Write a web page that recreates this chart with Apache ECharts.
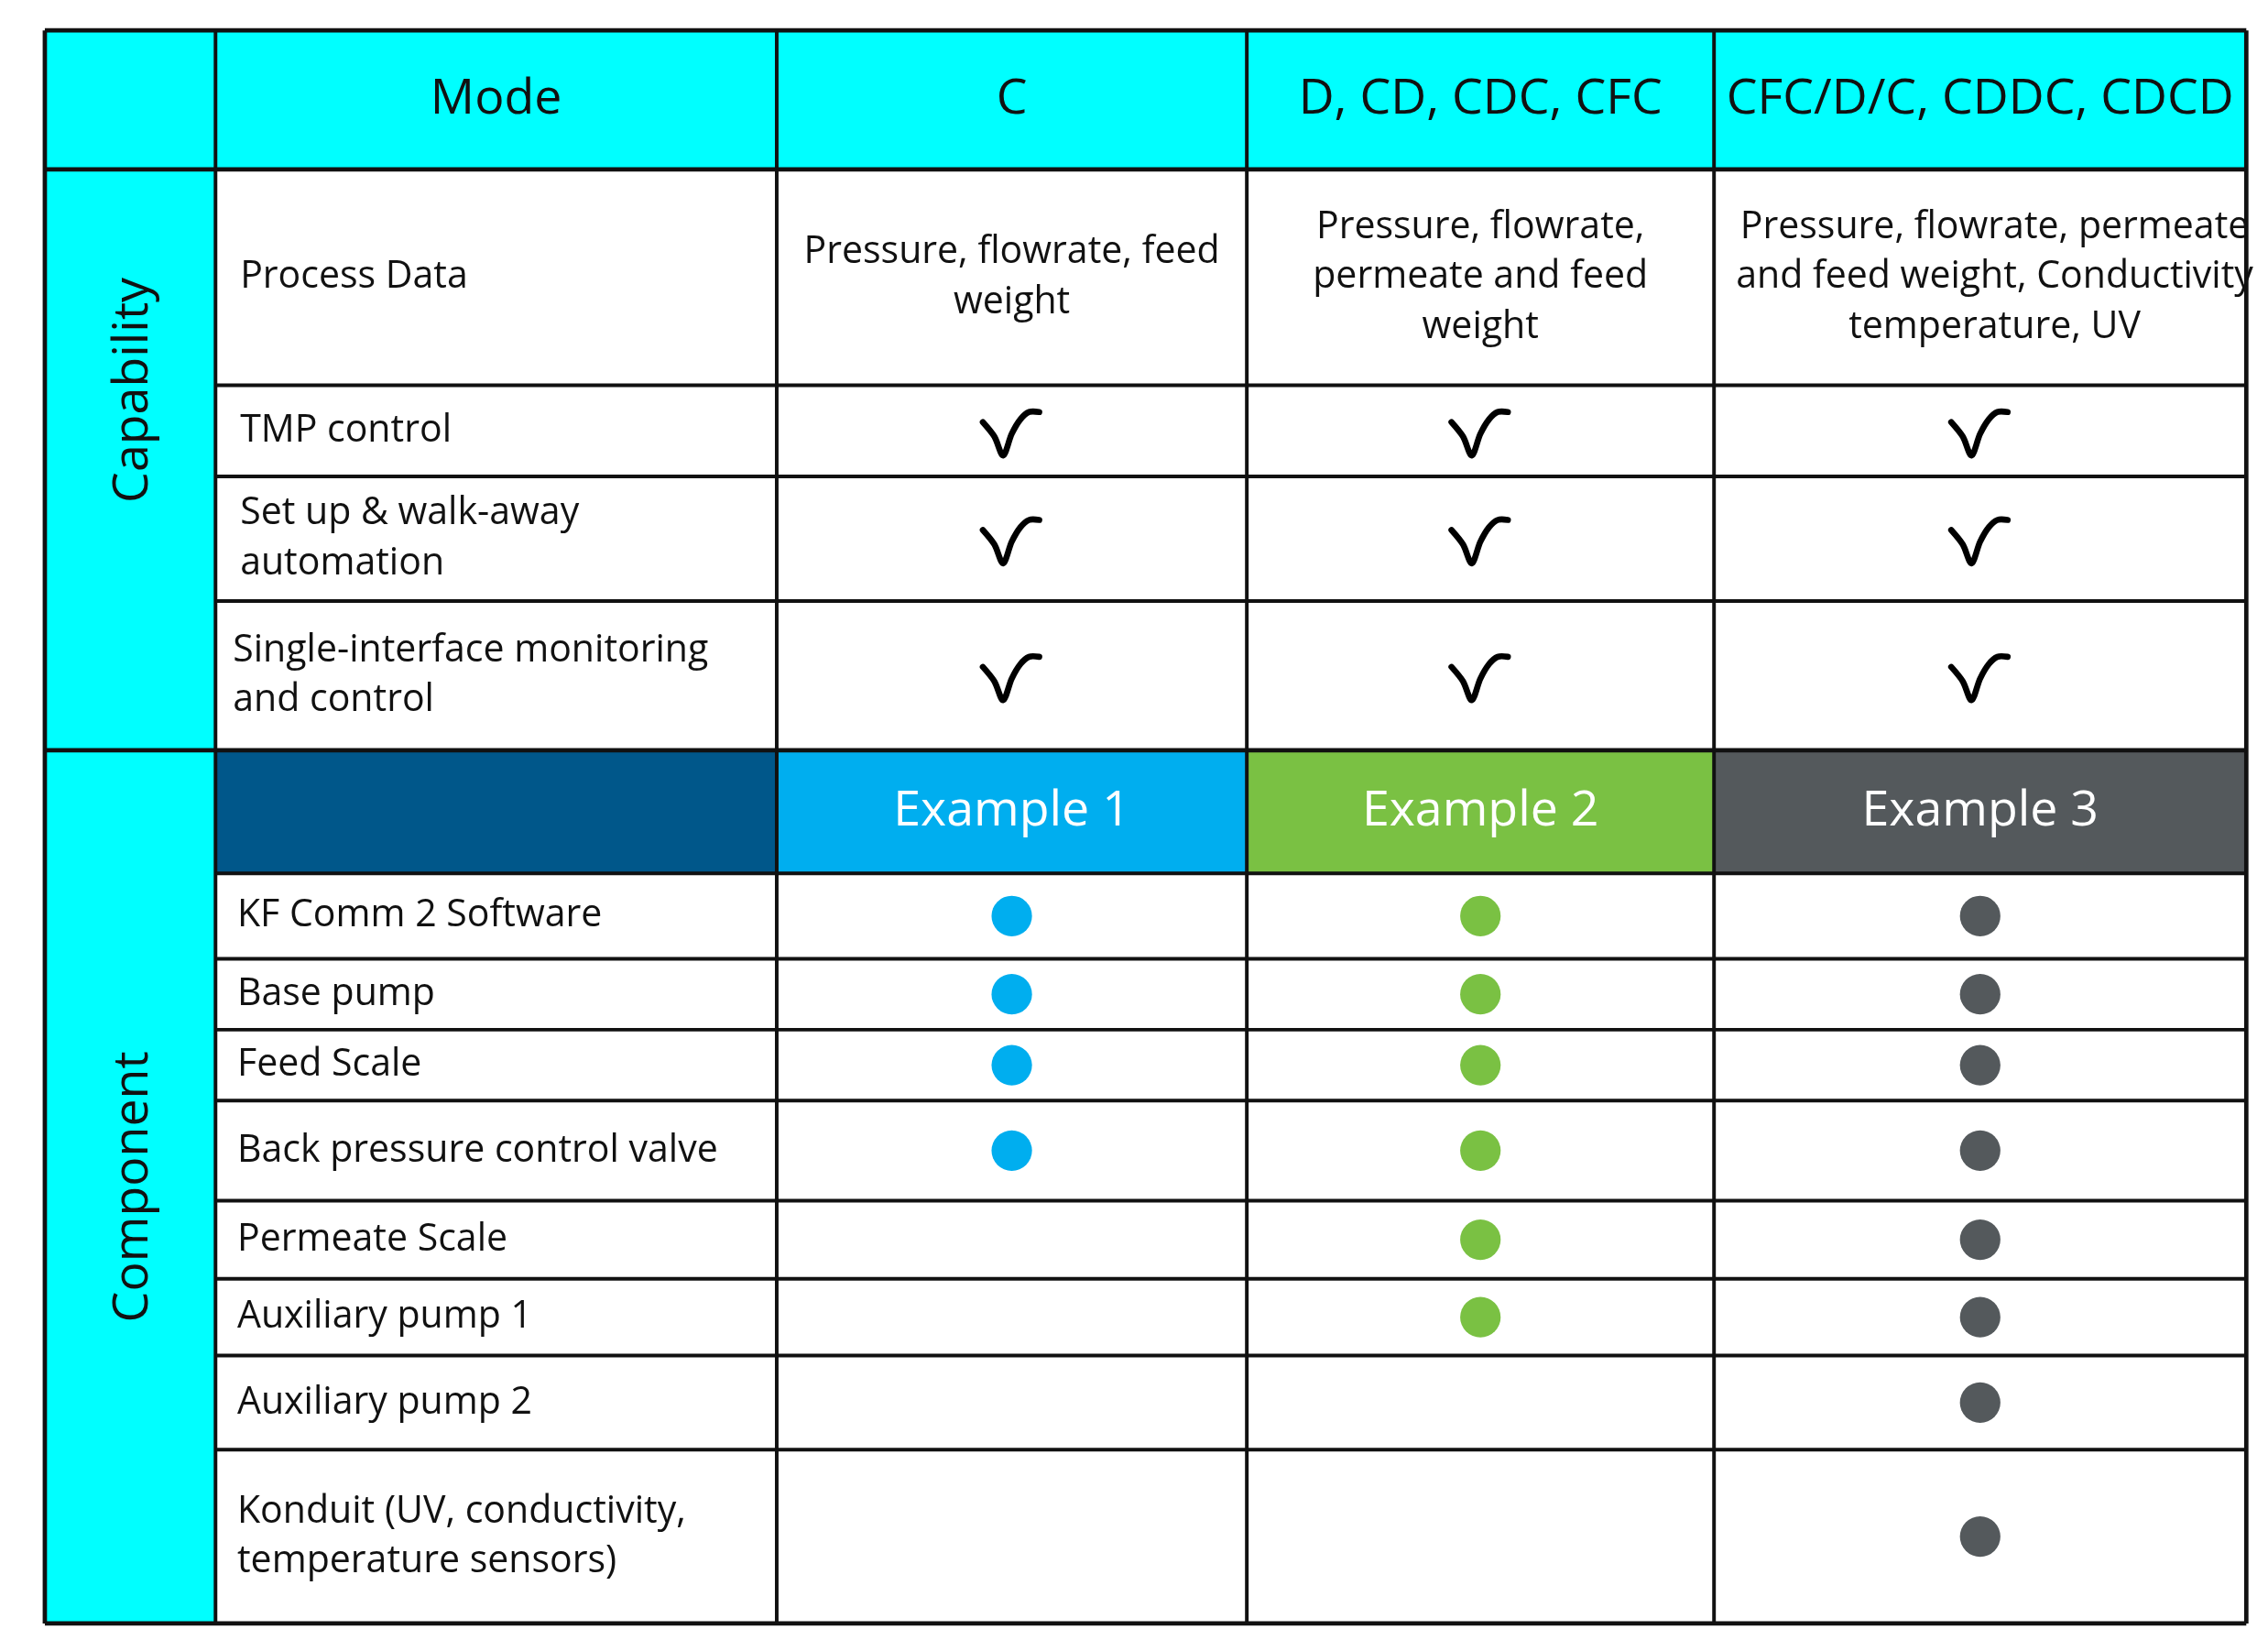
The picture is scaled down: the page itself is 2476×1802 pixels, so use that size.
<!DOCTYPE html>
<html><head><meta charset="utf-8">
<script src="https://cdn.jsdelivr.net/npm/echarts@6/dist/echarts.min.js"></script>
<style>html,body{margin:0;padding:0;background:#fff}#c{width:2476px;height:1802px}</style>
</head><body><div id="c"></div>
<script>
// ---- data ----
const modes = ['C', 'D, CD, CDC, CFC', 'CFC/D/C, CDDC, CDCD'];
const capRows = ['Process Data', 'TMP control', 'Set up & walk-away\nautomation', 'Single-interface monitoring\nand control'];
const processData = ['Pressure, flowrate, feed\nweight', 'Pressure, flowrate,\npermeate and feed\nweight', 'Pressure, flowrate, permeate\nand feed weight, Conductivity\ntemperature, UV'];
const checks = [[1,1,1],[1,1,1],[1,1,1]];
const examples = ['Example 1', 'Example 2', 'Example 3'];
const components = ['KF Comm 2 Software','Base pump','Feed Scale','Back pressure control valve','Permeate Scale','Auxiliary pump 1','Auxiliary pump 2','Konduit (UV, conductivity,\ntemperature sensors)'];
const included = [[1,1,1],[1,1,1],[1,1,1],[1,1,1],[0,1,1],[0,1,1],[0,0,1],[0,0,1]];

// ---- layout (reference units) ----
const W = 1568, H = 1140, S = 2476 / 1568;
const colX = [31, 149, 537, 862, 1185, 1553];
const capY = [117, 266, 329, 415, 518];
const compY = [603, 662, 711, 760, 829, 883, 936, 1001, 1121];
const tableTop = 21, exTop = 518;
const cyan = '#00FFFF', exColors = ['#00AEEF', '#7AC143', '#54595C'], exLabelBg = '#00578A';
const FONT = '"Open Sans","Noto Sans",sans-serif';

function render(params, api) {
  const P = (x, y) => api.coord([x, y]);
  const ch = [];
  const rect = (x0, y0, x1, y1, fill) => { const a = P(x0, y0), b = P(x1, y1);
    ch.push({type:'rect', shape:{x:a[0], y:a[1], width:b[0]-a[0], height:b[1]-a[1]}, style:{fill}}); };
  const line = (x0, y0, x1, y1, w) => { const a = P(x0, y0), b = P(x1, y1);
    ch.push({type:'line', shape:{x1:a[0], y1:a[1], x2:b[0], y2:b[1]}, style:{stroke:'#111', lineWidth:w*S}, z2:5}); };
  const text = (t, x, y, size, align, color, rot) => { const a = P(x, y);
    ch.push({type:'text', x:a[0], y:a[1], rotation:rot||0, style:{text:t, x:0, y:0, fill:color||'#111', font:`${size*S}px ${FONT}`, align:align||'center', verticalAlign:'middle', lineHeight:size*1.33*S}, z2:6}); };
  const check = (cx, cy) => { const pts = [[-20,-6],[-12,4],[-6,17],[0,2],[6,-8],[12,-13],[19,-13]].map(p => P(cx+p[0], cy+p[1]));
    ch.push({type:'polyline', shape:{points:pts, smooth:0.3}, style:{stroke:'#000', lineWidth:4.2*S, fill:null, lineCap:'round', lineJoin:'round'}, z2:6}); };
  const dot = (cx, cy, color) => { const a = P(cx, cy);
    ch.push({type:'circle', shape:{cx:a[0], cy:a[1], r:14*S}, style:{fill:color}, z2:6}); };
  const cx = i => (colX[i+2] + colX[i+3]) / 2;
  const bottom = compY[compY.length-1];

  rect(colX[0], tableTop, colX[1], bottom, cyan);
  rect(colX[1], tableTop, colX[5], capY[0], cyan);
  rect(colX[1], exTop, colX[2], compY[0], exLabelBg);
  examples.forEach((e, i) => rect(colX[i+2], exTop, colX[i+3], compY[0], exColors[i]));

  text('Mode', (colX[1]+colX[2])/2, (tableTop+capY[0])/2, 34);
  modes.forEach((m, i) => text(m, cx(i), (tableTop+capY[0])/2, 34));
  capRows.forEach((r, k) => {
    const y = (capY[k] + capY[k+1]) / 2;
    text(r, k === 3 ? 161 : 166, y, 26, 'left');
    if (k === 0) processData.forEach((p, i) => text(p, cx(i) + (i===2 ? 10 : 0), y, 26));
    else checks[k-1].forEach((c, i) => { if (c) check(cx(i), y); });
  });
  examples.forEach((e, i) => text(e, cx(i), (exTop+compY[0])/2, 34, 'center', '#fff'));
  components.forEach((c, k) => {
    const y = (compY[k] + compY[k+1]) / 2;
    text(c, 164, y, 26, 'left');
    included[k].forEach((v, i) => { if (v) dot(cx(i), y, exColors[i]); });
  });
  text('Capability', 92, (tableTop+exTop)/2, 34, 'center', '#111', Math.PI/2);
  text('Component', 92, (exTop+bottom)/2, 34, 'center', '#111', Math.PI/2);

  colX.forEach((x, i) => line(x, tableTop, x, bottom, (i===0||i===5) ? 3 : 2.5));
  [tableTop, capY[0]].forEach(y => line(colX[0], y, colX[5], y, 3));
  capY.slice(1, -1).forEach(y => line(colX[1], y, colX[5], y, 2.5));
  line(colX[0], exTop, colX[5], exTop, 3);
  compY.slice(0, -1).forEach(y => line(colX[1], y, colX[5], y, 2.5));
  line(colX[0], bottom, colX[5], bottom, 3);
  return {type:'group', children:ch};
}

const chart = echarts.init(document.getElementById('c'));
chart.setOption({
  animation:false,
  grid:{left:0, right:0, top:0, bottom:0},
  xAxis:{type:'value', min:0, max:W, show:false},
  yAxis:{type:'value', min:0, max:H, inverse:true, show:false},
  series:[{type:'custom', renderItem:render, data:[[0,0]], clip:false}]
});
</script></body></html>
